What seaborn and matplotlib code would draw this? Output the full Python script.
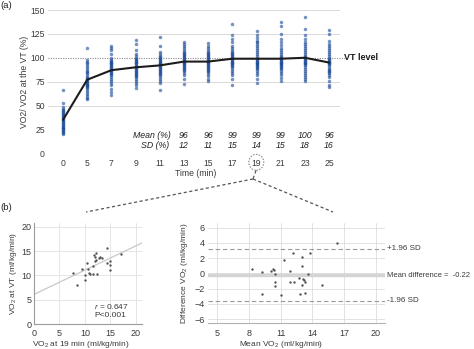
import numpy as np
import pandas as pd
import matplotlib
matplotlib.use("Agg")
import matplotlib.pyplot as plt
from matplotlib.patches import Ellipse
from matplotlib.lines import Line2D
import seaborn as sns

# ---------------- data ----------------
times = ["0", "5", "7", "9", "11", "13", "15", "17", "19", "21", "23", "25"]
vals_0 = [66, 53, 48, 46, 45, 44, 43, 42, 41, 40, 39, 38, 37, 36, 35, 34, 33, 32, 31, 30, 29, 28, 27, 26, 25, 24, 23, 22, 21, 20]
vals_5 = [110, 98, 96, 94, 92, 90, 88, 86, 85, 84, 82, 80, 79, 78, 77, 76, 75, 74, 73, 72, 71, 70, 69, 68, 66, 64, 62, 60, 58, 57]
vals_7 = [112, 110, 108, 104, 100, 98, 97, 96, 95, 94, 93, 92, 91, 90, 89, 88, 87, 86, 85, 84, 83, 82, 80, 78, 76, 74, 72, 67, 64, 61]
vals_9 = [119, 114, 108, 104, 102, 100, 99, 98, 97, 96, 95, 94, 92, 91, 90, 89, 88, 87, 86, 85, 84, 83, 82, 81, 80, 78, 76, 74, 71, 68]
vals_11 = [122, 112, 106, 104, 102, 101, 100, 99, 98, 97, 96, 95, 94, 93, 92, 91, 90, 89, 88, 87, 86, 85, 84, 83, 82, 80, 78, 76, 74, 66]
vals_13 = [117, 114, 112, 110, 108, 106, 105, 104, 103, 102, 101, 100, 99, 98, 97, 96, 95, 94, 93, 92, 91, 90, 89, 88, 87, 86, 84, 82, 78, 73]
vals_15 = [115, 112, 110, 108, 106, 105, 104, 103, 102, 101, 100, 99, 98, 97, 96, 95, 94, 93, 92, 91, 90, 89, 88, 87, 86, 85, 83, 81, 78, 76]
vals_17 = [135, 124, 120, 116, 112, 110, 108, 106, 105, 104, 103, 102, 101, 100, 99, 98, 97, 96, 95, 94, 93, 92, 91, 90, 88, 86, 84, 82, 78, 72]
vals_19 = [128, 124, 121, 118, 116, 114, 112, 110, 108, 106, 104, 102, 100, 99, 98, 97, 96, 95, 94, 93, 92, 91, 90, 89, 88, 86, 84, 82, 78, 74]
vals_21 = [137, 133, 125, 120, 116, 113, 110, 108, 106, 104, 102, 101, 100, 99, 98, 97, 96, 95, 94, 93, 92, 91, 90, 89, 88, 86, 84, 82, 79, 76]
vals_23 = [143, 130, 124, 120, 117, 114, 112, 110, 108, 106, 104, 102, 101, 100, 99, 98, 97, 96, 95, 94, 93, 92, 90, 88, 86, 84, 82, 80, 78, 76]
vals_25 = [129, 125, 118, 114, 112, 110, 108, 106, 104, 102, 100, 99, 98, 97, 96, 95, 94, 93, 92, 90, 88, 87, 86, 85, 84, 82, 80, 76, 72, 69]
all_vals = [vals_0, vals_5, vals_7, vals_9, vals_11, vals_13, vals_15, vals_17,
            vals_19, vals_21, vals_23, vals_25]
mean_line = [35, 77, 87, 90, 92, 96, 96, 99, 99, 99, 100, 95]
table_times = ["13", "15", "17", "19", "21", "23", "25"]
table_mean = ["96", "96", "99", "99", "99", "100", "96"]
table_sd = ["12", "11", "15", "14", "15", "18", "16"]
vt_level = 100

# panel b left: VO2 at 19 min vs VO2 at VT
vo2_19 = [7.6, 8.5, 9.5, 10.0, 10.1, 10.4, 10.6, 10.7, 11.0, 11.6, 11.6, 11.8, 11.9, 12.1,
          12.0, 12.2, 12.4, 12.7, 12.9, 13.3, 14.3, 14.3, 14.9, 14.9, 14.9, 17.0]
vo2_vt = [10.6, 8.0, 11.4, 10.1, 9.1, 12.5, 11.3, 10.5, 10.2, 10.2, 12.0, 14.2, 13.9, 14.6,
          12.9, 13.2, 10.3, 13.5, 13.8, 13.5, 15.7, 12.5, 12.9, 12.2, 11.1, 14.4]
fit_intercept = 6.1
fit_slope = 0.5

# panel b right: Bland-Altman
ba_mean = [8.3, 9.2, 9.2, 10.1, 10.3, 10.4, 10.5, 10.5, 10.5, 11.0, 11.3, 11.9, 11.9, 12.2,
           12.3, 12.7, 12.8, 13.0, 13.0, 13.0, 13.1, 13.2, 13.3, 13.3, 13.6, 13.8, 14.9, 16.3]
ba_diff = [0.57, 0.2, -2.7, 0.3, 0.6, 0.4, -0.1, -1.1, -1.6, -2.8, 1.75, 0.35, -1.1, 2.7,
           -1.1, -0.66, -2.7, 2.2, 0.96, -1.55, -0.75, -0.9, -1.1, -2.55, -0.1, 2.7, -1.55, 3.95]
mean_diff = -0.22
upper_loa = 3.2
lower_loa = -3.6

# ---------------- style ----------------
sns.set_theme(style="white")
plt.rcParams["font.family"] = ["Liberation Sans", "DejaVu Sans"]
plt.rcParams["mathtext.fontset"] = "custom"
plt.rcParams["mathtext.rm"] = "Liberation Sans"
plt.rcParams["mathtext.it"] = "Liberation Sans:italic"

W, H = 474, 349
fig = plt.figure(figsize=(W / 100, H / 100), dpi=100)


def rect(l, t, r, b):
    return [l / W, 1 - b / H, (r - l) / W, (b - t) / H]


TXT = "#3a3a3a"
GRID = "#d9d9d9"

# ---------------- panel a ----------------
ax1 = fig.add_axes(rect(48, 10, 340, 153.3))
df = pd.DataFrame({
    "time": np.repeat(times, [len(v) for v in all_vals]),
    "value": np.concatenate(all_vals),
})
for g in [0, 50, 75, 125, 150]:
    ax1.axhline(g, color=GRID, lw=0.7, zorder=0)
ax1.axhline(vt_level, xmin=0, xmax=1.017, color="#8a8a8a", lw=0.8, ls=(0, (1, 1.2)),
            zorder=1, clip_on=False)
sns.stripplot(data=df, x="time", y="value", order=times, jitter=False, color="#1f4e9a",
              size=2.5, alpha=0.62, linewidth=0, ax=ax1, zorder=2)
ax1.plot(np.arange(len(times)), mean_line, color="#1c1c1c", lw=1.5, zorder=3)
ax1.set_xlim(-0.62, 11.45)
ax1.set_ylim(0, 150)
ax1.set_yticks([0, 25, 50, 75, 100, 125, 150])
for s in ax1.spines.values():
    s.set_visible(False)
ax1.tick_params(axis="both", length=0, labelsize=6.2, colors=TXT)
ax1.tick_params(axis="x", pad=4.2)
ax1.tick_params(axis="y", pad=2.2)
ax1.set_xlabel("Time (min)", fontsize=6.2, color=TXT)
ax1.xaxis.set_label_coords(0.507, -0.11)
ax1.set_ylabel("VO2/ VO2 at the VT (%)", fontsize=6.2, color=TXT)
ax1.yaxis.set_label_coords(-0.065, 0.5)
ax1.text(11.62, vt_level, "VT level", fontsize=6.5, fontweight="bold", color="#1a1a1a",
         va="center", ha="left", clip_on=False)
ax1.text(4.45, 19, "Mean (%)", fontsize=6.3, style="italic", ha="right", va="center", color="#222")
ax1.text(4.37, 8.6, "SD (%)", fontsize=6.3, style="italic", ha="right", va="center", color="#222")
for t, m, s in zip(table_times, table_mean, table_sd):
    xi = times.index(t)
    ax1.text(xi, 19, m, fontsize=6.3, style="italic", ha="center", va="center", color="#222")
    ax1.text(xi, 8.6, s, fontsize=6.3, style="italic", ha="center", va="center", color="#222")

# dashed circle around the 19 min tick label + connectors
circ = Ellipse((256.3 / W, 1 - 162.3 / H), 15 / W, 16 / H, transform=fig.transFigure,
               fill=False, ec="#777777", lw=0.7, ls=(0, (1.5, 1.5)))
fig.add_artist(circ)
for (x0, y0, x1, y1) in [(256, 170.5, 253, 179), (253, 179, 86, 212), (253, 179, 333, 212)]:
    fig.add_artist(Line2D([x0 / W, x1 / W], [1 - y0 / H, 1 - y1 / H], transform=fig.transFigure,
                          color="#555555", lw=0.9, ls=(0, (2.5, 2))))

fig.text(0.0, 1 - 5 / H, "(a)", fontsize=6.8, color="#222", va="center", ha="left")
fig.text(0.0, 1 - 207 / H, "(b)", fontsize=6.8, color="#222", va="center", ha="left")

# ---------------- panel b left ----------------
ax2 = fig.add_axes(rect(34, 223, 142, 324))
ax2.set_xlim(0, 21.2)
ax2.set_ylim(0, 20.8)
ax2.set_xticks([0, 5, 10, 15, 20])
ax2.set_yticks([0, 5, 10, 15, 20])
ax2.grid(True, color="#e2e2e2", lw=0.6)
ax2.set_axisbelow(True)
ax2.axline((0, fit_intercept), slope=fit_slope, color="#c8c8c8", lw=0.9, zorder=1)
sns.scatterplot(x=vo2_19, y=vo2_vt, color="#555555", s=3, linewidth=0, ax=ax2, zorder=3)
for k in ["top", "right"]:
    ax2.spines[k].set_visible(False)
for k in ["left", "bottom"]:
    ax2.spines[k].set_color("#9a9a9a")
    ax2.spines[k].set_linewidth(0.8)
ax2.tick_params(axis="both", length=0, labelsize=6.5, colors=TXT)
ax2.tick_params(axis="x", pad=3.5)
ax2.tick_params(axis="y", pad=2)
ax2.set_xlabel("VO$_2$ at 19 min (ml/kg/min)", fontsize=6.0, color=TXT)
ax2.xaxis.set_label_coords(0.435, -0.15)
ax2.set_ylabel("VO$_2$ at VT (ml/kg/min)", fontsize=6.0, color=TXT)
ax2.yaxis.set_label_coords(-0.139, 0.5)
ax2.text(11.8, 3.7, "$r$ = 0.647", fontsize=6.0, color=TXT, ha="left", va="center")
ax2.text(11.9, 1.85, "P<0.001", fontsize=6.0, color=TXT, ha="left", va="center")

# ---------------- panel b right ----------------
ax3 = fig.add_axes(rect(208, 223, 385, 323))
ax3.set_xlim(4.1, 20.9)
ax3.set_ylim(-6.5, 6.6)
ax3.set_xticks([5, 8, 11, 14, 17, 20])
ax3.set_yticks([-6, -4, -2, 0, 2, 4, 6])
ax3.grid(True, color="#dedede", lw=0.6)
ax3.set_axisbelow(True)
ax3.axhline(mean_diff, color="#d4d4d4", lw=2.4, zorder=1)
ax3.axhline(upper_loa, color="#9a9a9a", lw=0.8, ls=(0, (4, 2.5)), zorder=1)
ax3.axhline(lower_loa, color="#9a9a9a", lw=0.8, ls=(0, (4, 2.5)), zorder=1)
sns.scatterplot(x=ba_mean, y=ba_diff, color="#555555", s=3, linewidth=0, ax=ax3, zorder=3)
for k in ["top", "right", "left"]:
    ax3.spines[k].set_visible(False)
ax3.spines["bottom"].set_color("#b0b0b0")
ax3.spines["bottom"].set_linewidth(0.8)
ax3.tick_params(axis="both", length=0, labelsize=6.5, colors=TXT)
ax3.tick_params(axis="x", pad=4)
ax3.tick_params(axis="y", pad=2.2)
ax3.set_xlabel("Mean VO$_2$ (ml/kg/min)", fontsize=6.0, color=TXT)
ax3.xaxis.set_label_coords(0.41, -0.165)
ax3.set_ylabel("Difference VO$_2$ (ml/kg/min)", fontsize=6.0, color=TXT)
ax3.yaxis.set_label_coords(-0.10, 0.5)
ax3.text(21.1, upper_loa, "+1.96 SD", fontsize=5.8, color=TXT, va="center", ha="left", clip_on=False)
ax3.text(21.1, mean_diff, "Mean difference =  -0.22", fontsize=5.5, color=TXT, va="center",
         ha="left", clip_on=False)
ax3.text(21.1, lower_loa, "-1.96 SD", fontsize=5.8, color=TXT, va="center", ha="left", clip_on=False)

fig.savefig("out.png", dpi=100)
